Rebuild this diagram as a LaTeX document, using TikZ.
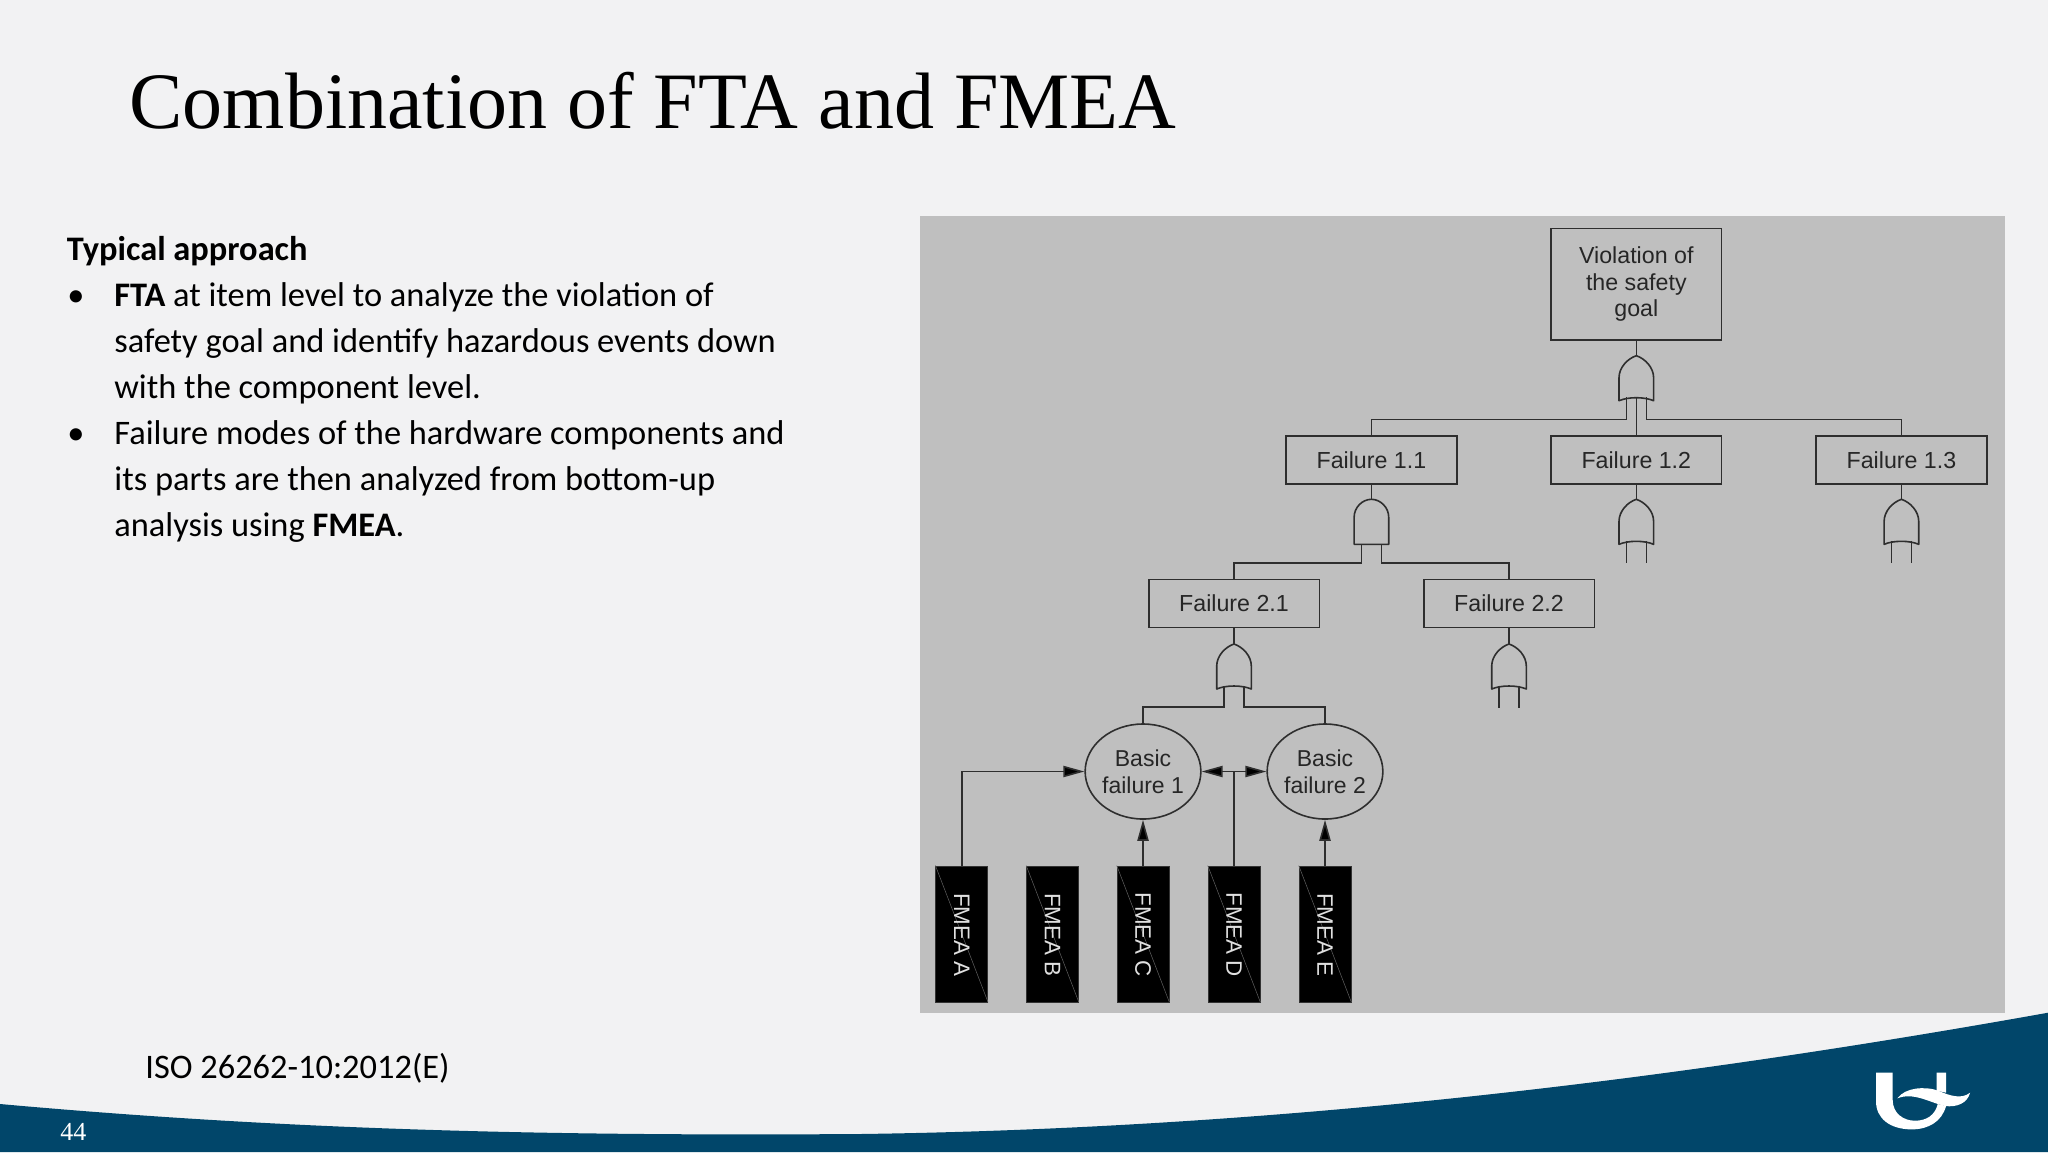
\documentclass[tikz,border=0pt]{standalone}
\usepackage{fontspec}
\setmainfont{Carlito}
\newfontfamily\titlefont{Liberation Serif}
\newfontfamily\diagfont{Liberation Sans}
\usetikzlibrary{shapes.geometric,arrows.meta}
\definecolor{pagebg}{HTML}{F2F2F3}
\definecolor{panelbg}{HTML}{BFBFBF}
\definecolor{bandblue}{HTML}{01466A}
\definecolor{ln}{HTML}{2E2E2E}
\tikzset{
  x=0.5pt,y=-0.5pt,
  conn/.style={draw=ln,line width=0.8pt},
  head/.style={conn,-{Triangle[length=10.5pt,width=5.6pt,fill=black]}},
  fbox/.style={rectangle,draw=ln,line width=0.8pt,inner sep=0pt,minimum width=85.3pt,minimum height=24pt,font=\diagfont\fontsize{11.6}{13.3}\selectfont,text=black!85,align=center},
  basic/.style={ellipse,draw=ln,line width=0.8pt,inner sep=0pt,minimum width=51pt,minimum height=47.5pt,font=\diagfont\fontsize{11.5}{13.4}\selectfont,text=black!85,align=center},
  fmea/.style={rectangle,fill=black,draw=black!80,line width=0.3pt,inner sep=0pt,minimum width=26pt,minimum height=68pt},
  fmealabel/.style={rotate=-90,inner sep=0pt,text=black!12,font=\diagfont\fontsize{11.2}{13}\selectfont},
  diag/.style={draw=black!62,line width=0.25pt},
  body/.style={anchor=base west,inner sep=0pt,font=\fontsize{17.2}{20}\selectfont,text=black},
}
% name, x, y of the apex
\newcommand{\orgate}[3]{%
  \begin{scope}[shift={(#2,#3)}]
    \coordinate (#1) at (0,0);
    \coordinate (#1l) at (-10,41.5);
    \coordinate (#1m) at (0,41);
    \coordinate (#1r) at (10,41.5);
    \draw[conn,line join=round] (-17.3,45) -- (-17.3,22) .. controls (-17.3,12) and (-9,3) .. (0,0)
      .. controls (9,3) and (17.3,12) .. (17.3,22) -- (17.3,45)
      .. controls (8,41) and (-8,41) .. (-17.3,45) -- cycle;
  \end{scope}}
\newcommand{\andgate}[3]{%
  \begin{scope}[shift={(#2,#3)}]
    \coordinate (#1) at (0,0);
    \coordinate (#1l) at (-10,45);
    \coordinate (#1r) at (10,45);
    \draw[conn,line join=round] (-17.3,45) -- (-17.3,18) .. controls (-17.3,8) and (-9,0) .. (0,0)
      .. controls (9,0) and (17.3,8) .. (17.3,18) -- (17.3,45) -- cycle;
  \end{scope}}
\begin{document}
\begin{tikzpicture}
\useasboundingbox (0,0) rectangle (2048,1152);
\fill[pagebg] (0,0) rectangle (2048,1152);
% footer band
\fill[bandblue] (0,1104) .. controls (300,1131) and (560,1136) .. (860,1134)
  .. controls (1300,1128) and (1700,1075) .. (2048,1012.7) -- (2048,1152) -- (0,1152) -- cycle;
% logo
\begin{scope}[shift={(1780,1000)},x=0.1667pt,y=-0.1667pt]
  \fill[white] (288,218) -- (338,218) -- (338,300) .. controls (338,340) and (370,362) .. (405,362)
    .. controls (440,362) and (465,345) .. (473,312) -- (498,318) .. controls (485,365) and (445,388) .. (395,388)
    .. controls (330,388) and (288,355) .. (288,305) -- cycle;
  \fill[white] (470,218) -- (498,218) -- (498,278) -- (470,272) -- cycle;
  \fill[white] (352,295) .. controls (375,262) and (435,258) .. (475,272) .. controls (510,288) and (545,298) .. (570,278)
    .. controls (562,310) and (530,322) .. (495,318) .. controls (450,308) and (400,275) .. (352,295) -- cycle;
\end{scope}
% title and text
\node[anchor=base west,inner sep=0pt,font=\titlefont\fontsize{40}{46}\selectfont] (title) at (129,128) {Combination of FTA and FMEA};
\node[body,font=\bfseries\fontsize{17.2}{20}\selectfont] (t0) at (66.5,260) {Typical approach};
\node[body] (b1) at (67,306) {•};
\node[body] (t1) at (114,306) {\textbf{FTA} at item level to analyze the violation of};
\node[body] (t2) at (114,352) {safety goal and identify hazardous events down};
\node[body] (t3) at (114,398) {with the component level.};
\node[body] (b2) at (67,444) {•};
\node[body] (t4) at (114,444) {Failure modes of the hardware components and};
\node[body] (t5) at (114,490) {its parts are then analyzed from bottom-up};
\node[body] (t6) at (114,536) {analysis using \textbf{FMEA}.};
\node[body] (iso) at (145,1078) {ISO 26262-10:2012(E)};
\node[anchor=base west,inner sep=0pt,text=white,font=\titlefont\fontsize{13}{15}\selectfont] (pg) at (60,1140) {44};
% diagram panel
\fill[panelbg] (920,216) rectangle (2005,1013);
\node[fbox,minimum height=55.7pt] (v) at (1636.3,284) {Violation of\\the safety\\goal};
\node[fbox] (f11) at (1371.4,460) {Failure 1.1};
\node[fbox] (f12) at (1636.3,460) {Failure 1.2};
\node[fbox] (f13) at (1901.4,460) {Failure 1.3};
\node[fbox] (f21) at (1234,603.3) {Failure 2.1};
\node[fbox] (f22) at (1509,603.3) {Failure 2.2};
\orgate{ga}{1636.3}{355.7}
\andgate{gb}{1371.4}{499.3}
\orgate{gc}{1636.3}{499.3}
\orgate{gd}{1901.4}{499.3}
\orgate{ge}{1234}{644}
\orgate{gf}{1509}{644}
\node[basic] (c1) at (1143,771.5) {Basic\\failure 1};
\node[basic] (c2) at (1325,771.5) {Basic\\failure 2};
\node[fmea] (fa) at (961.7,933.8) {};
\node[fmea] (fb) at (1052.5,933.8) {};
\node[fmea] (fc) at (1143,933.8) {};
\node[fmea] (fd) at (1234,933.8) {};
\node[fmea] (fe) at (1325,933.8) {};
\foreach \n/\s in {fa/A,fb/B,fc/C,fd/D,fe/E}{
  \draw[diag] (\n.north west) -- (\n.south east);
  \node[fmealabel] (\n t) at ([yshift=-0.5pt]\n.center) {FMEA \s};
}
% connectors
\draw[conn] (v.south) -- (ga);
\draw[conn] (f12.north) -- (gam);
\draw[conn] (f11.north) -- ++(0,-15.7) -| (gal);
\draw[conn] (f13.north) -- ++(0,-15.7) -| (gar);
\draw[conn] (f11.south) -- (gb);
\draw[conn] (f12.south) -- (gc);
\draw[conn] (f13.south) -- (gd);
\draw[conn] (f21.north) -- ++(0,-15.7) -| (gbl);
\draw[conn] (f22.north) -- ++(0,-15.7) -| (gbr);
\draw[conn] (gcl) -- ++(0,22);
\draw[conn] (gcr) -- ++(0,22);
\draw[conn] (gdl) -- ++(0,22);
\draw[conn] (gdr) -- ++(0,22);
\draw[conn] (f21.south) -- (ge);
\draw[conn] (f22.south) -- (gf);
\draw[conn] (gfl) -- ++(0,22);
\draw[conn] (gfr) -- ++(0,22);
\draw[conn] (c1.north) -- ++(0,-16.3) -| (gel);
\draw[conn] (c2.north) -- ++(0,-16.3) -| (ger);
\draw[head] (fa.north) |- (c1.west);
\draw[head] (fc.north) -- (c1.south);
\draw[head] (fe.north) -- (c2.south);
\draw[conn] (fd.north) -- (fd.north |- c1.east);
\coordinate (dj) at (fd.north |- c1.east);
\draw[head] (dj) -- (c1.east);
\draw[head] (dj) -- (c2.west);
\end{tikzpicture}
\end{document}
